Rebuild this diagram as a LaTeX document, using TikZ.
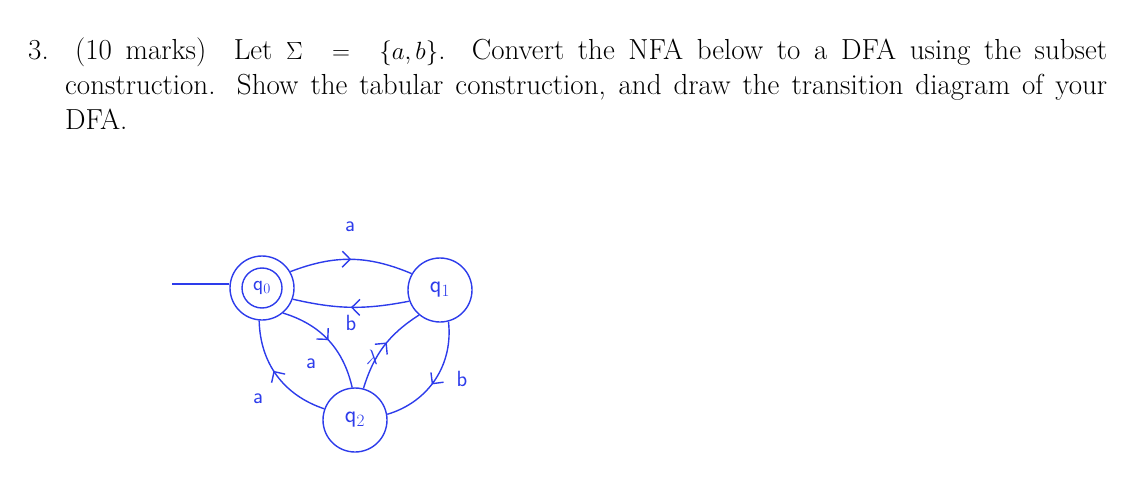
\documentclass[tikz,border=0pt]{standalone}
\usetikzlibrary{arrows.meta,decorations.markings}
\definecolor{pen}{RGB}{45,60,235}
\begin{document}
\begin{tikzpicture}[x=1pt,y=-1pt,
  st/.style={circle,draw=pen,line width=1.4pt,minimum size=64pt,inner sep=0pt,text=pen,font=\sffamily\fontsize{24}{24}\selectfont},
  tr/.style={draw=pen,line width=1.4pt,postaction={decorate},decoration={markings,mark=at position #1 with {\arrow{Straight Barb[length=8pt,width=16pt,line width=1.4pt]}}}},
  tr/.default=0.5,
  lb/.style={text=pen,font=\sffamily\fontsize{22}{22}\selectfont}]
\useasboundingbox (0,0) rectangle (1145,481);
\node[anchor=north west,inner sep=0pt,text width=1079pt,align=justify,font=\fontsize{29}{35}\selectfont] (txt) at (28,38)
 {\hangindent=37pt\hangafter=1 3. (10 marks)\ \ Let $\Sigma\;=\;\{a,b\}$. Convert the NFA below to a DFA using the subset\linebreak construction. Show the tabular construction, and draw the transition diagram of your\linebreak DFA.\par};
\node[st] (q0) at (262,288) {};
\node[circle,draw=pen,line width=1.4pt,minimum size=40pt,inner sep=0pt,text=pen,font=\sffamily\fontsize{21}{21}\selectfont] (q0i) at (262,288) {q$_0$};
\node[st] (q1) at (440,290) {q$_1$};
\node[st] (q2) at (355,420) {q$_2$};
\coordinate (init) at (172,284);
\draw[draw=pen,line width=1.4pt] (init) -- (q0.west|-init);
\draw[tr] (q0.30) to[bend left=22] (q1.150);
\draw[tr] (q1.200) to[bend left=12] (q0.-20);
\draw[tr=0.5] (q0.-50) to[bend left=30] (q2.95);
\draw[tr=0.55] (q2.160) to[bend left=35] (q0.-95);
\draw[tr=0.55] (q2.75) to[bend left=20] (q1.-130);
\draw[tr=0.55] (q1.-75) to[bend left=40] (q2.10);
\node[lb] (la1) at (350,227) {a};
\node[lb] (lb1) at (351,323) {b};
\node[lb] (la2) at (311,364) {a};
\node[lb] (la3) at (258,399) {a};
\node[lb] (lb2) at (462,379) {b};
\node[text=pen,font=\fontsize{22}{22}\selectfont] (ll) at (372,357) {$\lambda$};
\end{tikzpicture}
\end{document}
